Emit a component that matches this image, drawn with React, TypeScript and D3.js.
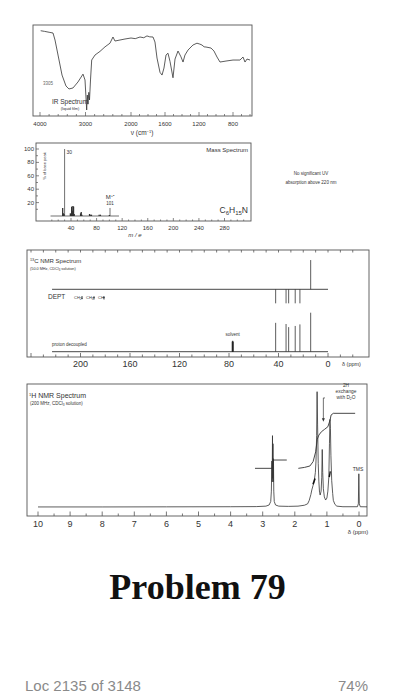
import * as d3 from 'd3';

// IR spectrum: [wavenumber cm-1, % transmittance]
const irSpectrum: [number, number][] = [
  [3985, 93.7], [3900, 93], [3800, 92], [3714, 91.2], [3670, 83.5], [3604, 67], [3516, 45],
  [3429, 33], [3363, 29.7], [3275, 30.8], [3165, 37.4], [3055, 46], [3011, 39.6], [2974, 6.6],
  [2960, 23], [2945, 13], [2927, 26], [2912, 17.6], [2890, 39.6], [2864, 61.5], [2791, 67],
  [2681, 71], [2571, 76], [2462, 80], [2396, 86.8], [2352, 82.4], [2242, 83.5], [2132, 84.6],
  [2000, 85.7], [1950, 85], [1894, 86.8], [1850, 86], [1812, 88], [1780, 87], [1741, 86.8],
  [1718, 81.3], [1694, 63.7], [1659, 48], [1635, 45], [1612, 52.7], [1588, 67], [1565, 69],
  [1541, 60], [1506, 42], [1482, 62.6], [1447, 71.4], [1412, 65], [1388, 59.3], [1365, 67],
  [1329, 72.5], [1271, 78], [1224, 80], [1190, 79], [1165, 78], [1140, 76], [1118, 75.8],
  [1059, 74.7], [1024, 71.4], [988, 64.8], [953, 59.3], [882, 60.4], [800, 61.5], [718, 61.5],
  [682, 64.8], [659, 59.3], [635, 62.6], [600, 61.5],
];
const irTickLabels = [4000, 3000, 2000, 1600, 1200, 800];

// mass spectrum: [m/e, % of base peak]
const msPeaks: [number, number][] = [
  [27, 12], [28, 4], [29, 3], [30, 100], [39, 4], [41, 14], [42, 8], [43, 15], [44, 14],
  [45, 3], [55, 4], [56, 6], [57, 2], [69, 3], [70, 2], [72, 2], [84, 2], [86, 2], [100, 1.5],
  [101, 12],
];
const msTickLabels = [40, 80, 120, 160, 200, 240, 280];
const msPercentLabels = [20, 40, 60, 80, 100];

// 13C NMR: shifts (ppm) and relative heights
const cShifts = [42.3, 33.9, 31.8, 26.5, 22.7, 14.0];
const cDecoupled = [74, 71, 63, 66, 70, 100];
const cDept = [-36, -36, -36, -36, -36, 75];
const solventShifts = [77.4, 77.0, 76.6];
const solventHeights = [26, 28, 26];
const cTickLabels = [200, 160, 120, 80, 40, 0];

// 1H NMR: [ppm, intensity]
const hSpectrum: [number, number][] = [
  [10.0, 0.3], [8.0, 0.3], [6.0, 0.4], [4.0, 0.5], [3.2, 0.6], [2.9, 1], [2.8, 2], [2.75, 5],
  [2.73, 14], [2.715, 40], [2.705, 22], [2.695, 62], [2.688, 25], [2.68, 55], [2.672, 22],
  [2.665, 42], [2.655, 14], [2.64, 5], [2.6, 2], [2.5, 1], [2.2, 0.8], [1.9, 1], [1.7, 1.8],
  [1.6, 3], [1.55, 6], [1.5, 11], [1.47, 15], [1.43, 19], [1.4, 22], [1.36, 30], [1.34, 40],
  [1.32, 62], [1.305, 100], [1.29, 72], [1.27, 38], [1.25, 22], [1.23, 13], [1.21, 10.6],
  [1.18, 14], [1.16, 26], [1.145, 50], [1.13, 30], [1.11, 16], [1.08, 9], [1.04, 6.3], [1.0, 8],
  [0.97, 14], [0.94, 26], [0.92, 55], [0.905, 76], [0.89, 68], [0.875, 45], [0.85, 23],
  [0.82, 12], [0.8, 6], [0.75, 2.5], [0.69, 1], [0.5, 0.5], [0.05, 0.5], [0.02, 3],
  [0.005, 29], [-0.01, 3], [-0.04, 0.5], [-0.25, 0.4],
];
const hIntegralA: [number, number][] = [[3.24, 33.7], [2.7, 33.7], [2.69, 40.9], [2.25, 40.9]];
const hIntegralB: [number, number][] = [
  [1.89, 33.7], [1.7, 34.5], [1.53, 35.7], [1.43, 39.5], [1.35, 48], [1.3, 58.8], [1.25, 62.5],
  [1.17, 65.4], [1.07, 67.5], [0.97, 69.7], [0.9, 75.5], [0.87, 79.8], [0.8, 81.3], [0.12, 81.3],
];
const hTickLabels = [10, 9, 8, 7, 6, 5, 4, 3, 2, 1, 0];

const sans = 'Liberation Sans, Arial, sans-serif';
const ink = '#333';

function IRPanel() {
  const x = d3.scaleLinear().domain([4000, 2000, 800]).range([40, 131, 233]);
  const y = d3.scaleLinear().domain([0, 100]).range([116, 25]);
  const line = d3.line<[number, number]>().x((d) => x(d[0])).y((d) => y(d[1]));
  const minor = [...d3.range(4000, 2000, -200), ...d3.range(2000, 599, -100)];
  return (
    <g>
      <rect x={33} y={25} width={219} height={91} fill='none' stroke='#555' strokeWidth={0.9} />
      {minor.map((t) => (
        <line key={t} x1={x(t)} x2={x(t)} y1={116} y2={irTickLabels.includes(t) ? 112 : 114} stroke='#555' strokeWidth={0.7} />
      ))}
      {irTickLabels.map((t) => (
        <text key={t} x={x(t)} y={126} fontSize={6} textAnchor='middle' fill={ink}>{t}</text>
      ))}
      <text x={142} y={135} fontSize={6.5} textAnchor='middle' fill={ink}>
        ν  (cm<tspan dy={-2.5} fontSize={4}>−1</tspan><tspan dy={2.5}>)</tspan>
      </text>
      <path d={line(irSpectrum) ?? ''} fill='none' stroke={ink} strokeWidth={0.8} />
      <text x={43} y={85} fontSize={4.5} fill='#666'>3305</text>
      <text x={70} y={104} fontSize={6.5} textAnchor='middle' fill={ink}>IR Spectrum</text>
      <text x={70} y={109.5} fontSize={3.8} textAnchor='middle' fill={ink}>(liquid film)</text>
    </g>
  );
}

function MassPanel() {
  const x = d3.scaleLinear().domain([40, 280]).range([71, 224.5]);
  const y = d3.scaleLinear().domain([0, 100]).range([216, 149]);
  const minor = d3.range(10, 320, 10);
  return (
    <g>
      <rect x={36} y={143} width={215} height={78} fill='none' stroke='#555' strokeWidth={0.9} />
      {minor.map((t) => (
        <line key={t} x1={x(t)} x2={x(t)} y1={221} y2={t % 40 === 0 ? 218 : 219.5} stroke='#555' strokeWidth={0.7} />
      ))}
      {msTickLabels.map((t) => (
        <text key={t} x={x(t)} y={230} fontSize={6} textAnchor='middle' fill={ink}>{t}</text>
      ))}
      {d3.range(10, 101, 10).map((t) => (
        <line key={t} x1={36} x2={t % 20 === 0 ? 39 : 38} y1={y(t)} y2={y(t)} stroke='#555' strokeWidth={0.7} />
      ))}
      {msPercentLabels.map((t) => (
        <text key={t} x={34} y={y(t) + 2} fontSize={6} textAnchor='end' fill={ink}>{t}</text>
      ))}
      <text x={135} y={237} fontSize={6} fontStyle='italic' textAnchor='middle' fill={ink}>m / e</text>
      <text transform='translate(46,166) rotate(-90)' fontSize={4} textAnchor='middle' fill={ink}>% of base peak</text>
      <line x1={x(8)} x2={x(115)} y1={y(0)} y2={y(0)} stroke={ink} strokeWidth={0.7} />
      {msPeaks.map(([m, p]) => (
        <line key={m} x1={x(m)} x2={x(m)} y1={y(0)} y2={y(p)} stroke={ink} strokeWidth={m === 30 || m === 101 ? 0.7 : 1.3} />
      ))}
      <text x={x(30) + 2} y={y(100) + 5} fontSize={5} fill={ink}>30</text>
      <text x={x(101)} y={y(12) - 9} fontSize={6} textAnchor='middle' fill={ink}>
        M<tspan dy={-2} fontSize={4}>+•</tspan>
      </text>
      <text x={x(101)} y={y(12) - 3} fontSize={4.5} textAnchor='middle' fill={ink}>101</text>
      <text x={248} y={152} fontSize={6} textAnchor='end' fill={ink}>Mass Spectrum</text>
      <text x={248} y={213} fontSize={8.5} textAnchor='end' fill={ink}>
        C<tspan dy={2} fontSize={6}>6</tspan><tspan dy={-2}>H</tspan><tspan dy={2} fontSize={6}>15</tspan><tspan dy={-2}>N</tspan>
      </text>
      <text x={311} y={175} fontSize={4.5} textAnchor='middle' fill={ink}>No significant UV</text>
      <text x={311} y={184} fontSize={4.5} textAnchor='middle' fill={ink}>absorption above 220 nm</text>
    </g>
  );
}

function Arrow({ x, y, up }: { x: number; y: number; up: boolean }) {
  const tip = up ? y - 3.5 : y + 3.5;
  const base = up ? tip + 1.8 : tip - 1.8;
  return (
    <g>
      <line x1={x} x2={x} y1={y} y2={base} stroke='#111' strokeWidth={0.8} />
      <path d={`M${x - 1.1},${base} L${x},${tip} L${x + 1.1},${base} Z`} fill='#111' />
    </g>
  );
}

function CarbonPanel() {
  const x = d3.scaleLinear().domain([0, 200]).range([328, 80.5]);
  const yDept = d3.scaleLinear().domain([0, 100]).range([289.3, 250.3]);
  const yDec = d3.scaleLinear().domain([0, 100]).range([351.7, 312.7]);
  const minor = d3.range(-20, 241, 10);
  return (
    <g>
      <rect x={27} y={250} width={342} height={107} fill='none' stroke='#555' strokeWidth={0.9} />
      {minor.map((t) => (
        <g key={t}>
          <line x1={x(t)} x2={x(t)} y1={250} y2={252.5} stroke='#555' strokeWidth={0.8} />
          <line x1={x(t)} x2={x(t)} y1={357} y2={t % 40 === 0 ? 353 : 354.5} stroke='#555' strokeWidth={0.8} />
        </g>
      ))}
      {cTickLabels.map((t) => (
        <text key={t} x={x(t)} y={367} fontSize={9} textAnchor='middle' fill={ink}>{t}</text>
      ))}
      <text x={342} y={366} fontSize={5.5} fill={ink}>δ (ppm)</text>
      <text x={30} y={263} fontSize={6} fill={ink}>
        <tspan dy={-2} fontSize={3.8}>13</tspan><tspan dy={2}>C NMR Spectrum</tspan>
      </text>
      <text x={30} y={270} fontSize={3.8} fill={ink}>
        (50.0 MHz, CDCl<tspan dy={1} fontSize={2.8}>3</tspan><tspan dy={-1}> solution)</tspan>
      </text>
      <text x={48} y={299} fontSize={6.5} fill={ink}>DEPT</text>
      <text x={74} y={298.5} fontSize={4} fill={ink}>
        CH<tspan dy={1} fontSize={3}>2</tspan>
      </text>
      <Arrow x={82} y={296} up={false} />
      <text x={86} y={298.5} fontSize={4} fill={ink}>
        CH<tspan dy={1} fontSize={3}>3</tspan>
      </text>
      <Arrow x={94} y={299.5} up={true} />
      <text x={98} y={298.5} fontSize={4} fill={ink}>CH</text>
      <Arrow x={104} y={299.5} up={true} />
      <text x={52} y={346} fontSize={4.5} fill={ink}>proton decoupled</text>
      <text x={x(77)} y={336} fontSize={4.5} textAnchor='middle' fill={ink}>solvent</text>
      <line x1={x(223)} x2={x(0)} y1={yDept(0)} y2={yDept(0)} stroke={ink} strokeWidth={0.9} />
      <line x1={x(223)} x2={x(0)} y1={yDec(0)} y2={yDec(0)} stroke={ink} strokeWidth={0.9} />
      {cShifts.map((s, i) => (
        <g key={s}>
          <line x1={x(s)} x2={x(s)} y1={yDept(0)} y2={yDept(cDept[i])} stroke={ink} strokeWidth={0.8} />
          <line x1={x(s)} x2={x(s)} y1={yDec(0)} y2={yDec(cDecoupled[i])} stroke={ink} strokeWidth={0.8} />
        </g>
      ))}
      {solventShifts.map((s, i) => (
        <line key={s} x1={x(s)} x2={x(s)} y1={yDec(0)} y2={yDec(solventHeights[i])} stroke='#111' strokeWidth={0.9} />
      ))}
    </g>
  );
}

function ProtonPanel() {
  const x = d3.scaleLinear().domain([10, 0]).range([38, 359]);
  const y = d3.scaleLinear().domain([0, 100]).range([507.3, 391.7]);
  const line = d3.line<[number, number]>().x((d) => x(d[0])).y((d) => y(d[1]));
  const ticks = d3.range(0, 20.5, 1).map((i) => i / 2);
  return (
    <g>
      <rect x={27} y={384} width={340} height={132} fill='none' stroke='#555' strokeWidth={0.9} />
      {ticks.map((t) => (
        <line key={t} x1={x(t)} x2={x(t)} y1={516} y2={Number.isInteger(t) ? 511.5 : 513.5} stroke='#555' strokeWidth={0.8} />
      ))}
      {hTickLabels.map((t) => (
        <text key={t} x={x(t)} y={527} fontSize={9} textAnchor='middle' fill={ink}>{t}</text>
      ))}
      <text x={358} y={534} fontSize={6} textAnchor='middle' fill={ink}>δ (ppm)</text>
      <text x={29} y={398} fontSize={7} fill={ink}>
        <tspan dy={-2} fontSize={4}>1</tspan><tspan dy={2}>H NMR Spectrum</tspan>
      </text>
      <text x={30} y={405} fontSize={4.5} fill={ink}>
        (200 MHz, CDCl<tspan dy={1} fontSize={3.2}>3</tspan><tspan dy={-1}> solution)</tspan>
      </text>
      <path d={line(hSpectrum) ?? ''} fill='none' stroke={ink} strokeWidth={0.8} />
      <path d={line(hIntegralA) ?? ''} fill='none' stroke={ink} strokeWidth={0.9} />
      <path d={line(hIntegralB) ?? ''} fill='none' stroke={ink} strokeWidth={0.9} />
      <line x1={x(1.4) - 1} x2={x(1.4) + 1} y1={y(20)} y2={y(25)} stroke='#111' strokeWidth={1.6} />
      <line x1={x(0.91) - 0.5} x2={x(0.91) + 0.5} y1={y(26)} y2={y(31)} stroke='#111' strokeWidth={1.4} />
      <path d={`M${x(1.06)},${y(94.6)} H${x(1.11)} V${y(76)}`} fill='none' stroke={ink} strokeWidth={0.7} />
      <path d={`M${x(1.11) - 1.5},${y(77)} L${x(1.11)},${y(74)} L${x(1.11) + 1.5},${y(77)} Z`} fill={ink} />
      <text x={346} y={387} fontSize={4.8} textAnchor='middle' fill={ink}>2H</text>
      <text x={346} y={393} fontSize={4.8} textAnchor='middle' fill={ink}>exchange</text>
      <text x={346} y={399} fontSize={4.8} textAnchor='middle' fill={ink}>
        with D<tspan dy={1} fontSize={3.4}>2</tspan><tspan dy={-1}>O</tspan>
      </text>
      <text x={358} y={471} fontSize={5} textAnchor='middle' fill={ink}>TMS</text>
    </g>
  );
}

export default function App() {
  return (
    <div style={{ position: 'absolute', left: 0, top: 0 }}>
      <svg width={395} height={700} viewBox='0 0 395 700' fontFamily={sans} style={{ display: 'block', background: '#fff' }}>
        <IRPanel />
        <MassPanel />
        <CarbonPanel />
        <ProtonPanel />
        <text x={197.5} y={599} fontSize={36} fontWeight='bold' fontFamily='Liberation Serif, serif' textAnchor='middle' fill='#111'>
          Problem 79
        </text>
        <text x={25} y={691} fontSize={15} fill='#8a8a8a'>Loc 2135 of 3148</text>
        <text x={368} y={691} fontSize={15} textAnchor='end' fill='#8a8a8a'>74%</text>
      </svg>
    </div>
  );
}
